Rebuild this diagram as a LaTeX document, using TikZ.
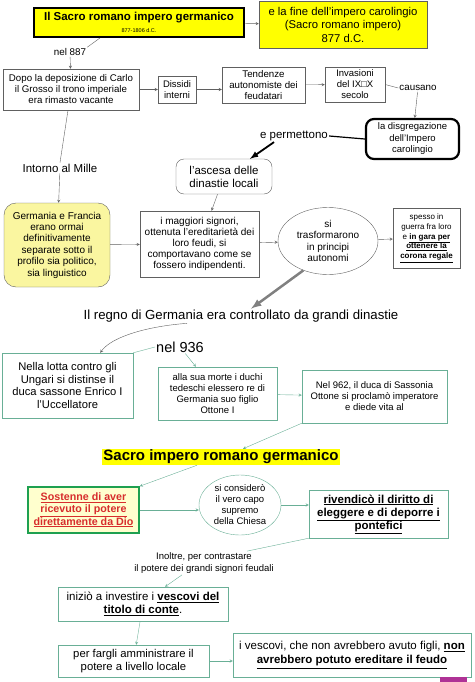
\documentclass[tikz,border=0pt]{standalone}
\usepackage{fontspec}
\setmainfont{Liberation Sans}
\usetikzlibrary{shapes,arrows,positioning,calc}
\usepackage{xcolor}
\definecolor{titleyellow}{RGB}{255,255,0}
\definecolor{paleyellow}{RGB}{250,246,160}
\definecolor{creamyellow}{RGB}{255,255,206}
\definecolor{mapgreen}{RGB}{105,175,150}
\definecolor{deepgreen}{RGB}{30,160,80}
\definecolor{godred}{RGB}{215,45,45}
\definecolor{linegrey}{RGB}{95,95,95}
\definecolor{pagemark}{RGB}{175,50,150}
\newcommand{\fsz}[2]{\fontsize{#1}{#2}\selectfont}
\newcommand{\bul}[1]{\textbf{\underline{#1}}}

\begin{document}
\begin{tikzpicture}[x=1pt, y=-1pt, >=stealth,
    plain/.style={rectangle, draw=gray!75!black, align=center, inner sep=1pt},
    ottobox/.style={rectangle, draw=mapgreen, align=center, inner sep=1pt},
    word/.style={inner sep=1pt, align=center},
    link/.style={->, draw=linegrey},
    glink/.style={->, draw=mapgreen}]
    \useasboundingbox (0,0) rectangle (474,682);

    % the end of the Carolingian empire
    \node[plain, draw=black, line width=1.8pt, fill=titleyellow, minimum width=210, minimum height=29, font=\bfseries\fsz{11.5}{12.5}] (sacroimp) at (139,22.5) {Il Sacro romano impero germanico\\[-1pt]{\mdseries\fsz{5.5}{6}877-1806 d.C.}};
    \node[plain, fill=titleyellow, minimum width=168, minimum height=47, font=\fsz{11.3}{13.5}] (fine) at (343,24.5) {e la fine dell'impero carolingio\\(Sacro romano impero)\\877 d.C.};
    \node[word, font=\fsz{9.8}{10}] (nel887) at (70,52) {nel 887};
    \node[plain, minimum width=136, minimum height=41, font=\fsz{9.7}{11}] (dopo) at (71,89.5) {Dopo la deposizione di Carlo\\il Grosso il trono imperiale\\era rimasto vacante};
    \node[plain, minimum width=38, minimum height=27, font=\fsz{9.5}{11}] (dissidi) at (177,89.5) {Dissidi\\interni};
    \node[plain, minimum width=83, minimum height=36, font=\fsz{9.7}{11}] (tendenze) at (263.5,85) {Tendenze\\autonomiste dei\\feudatari};
    \node[plain, minimum width=60, minimum height=35, font=\fsz{9.5}{11}] (invasioni) at (355,84.5) {Invasioni\\del IX□X\\secolo};
    \node[word, font=\fsz{9.8}{10}] (causano) at (418,88) {causano};
    \node[plain, draw=black, line width=2.2pt, rounded corners=8, minimum width=93, minimum height=40, font=\fsz{9.5}{11.5}] (disgreg) at (412.5,139) {la disgregazione\\dell'Impero\\carolingio};
    \node[word, font=\fsz{11.5}{12}] (permettono) at (294,136) {e permettono};
    \node[plain, rounded corners=8, minimum width=96, minimum height=35, font=\fsz{11.5}{13}] (ascesa) at (224,176.5) {l'ascesa delle\\dinastie locali};
    \node[word, font=\fsz{11.5}{12}] (mille) at (60,168) {Intorno al Mille};
    \node[plain, fill=paleyellow, rounded corners=12, minimum width=106, minimum height=84, font=\fsz{10}{11.4}] (germania) at (57,245) {Germania e Francia\\erano ormai\\definitivamente\\separate sotto il\\profilo sia politico,\\sia linguistico};
    \node[plain, minimum width=119, minimum height=66, font=\fsz{10}{11}] (maggiori) at (199.5,244) {i maggiori signori,\\ottenuta l'ereditarietà dei\\loro feudi, si\\comportavano come se\\fossero indipendenti.};
    \node[ellipse, draw=gray!75!black, minimum width=100, minimum height=67, align=center, inner sep=0pt, font=\fsz{10}{11.4}] (trasf) at (328,241) {si\\trasformarono\\in principi\\autonomi};
    \node[plain, minimum width=67, minimum height=60, font=\fsz{8}{9.8}] (spesso) at (426.5,238) {spesso in\\guerra fra loro\\e \bul{in gara per}\\\bul{ottenere la}\\\bul{corona regale}};

    % Ottone I
    \node[word, font=\fsz{13.2}{14}] (regno) at (241,316) {Il regno di Germania era controllato da grandi dinastie};
    \node[word, font=\fsz{14.5}{16}] (nel936) at (180,347) {nel 936};
    \node[ottobox, minimum width=131, minimum height=65, font=\fsz{11.2}{12.5}] (nella) at (67.5,385.5) {Nella lotta contro gli\\Ungari si distinse il\\duca sassone Enrico I\\l'Uccellatore};
    \node[ottobox, minimum width=119, minimum height=53, font=\fsz{9.5}{11}] (alla) at (217.5,393.5) {alla sua morte i duchi\\tedeschi elessero re di\\Germania suo figlio\\Ottone I};
    \node[ottobox, minimum width=145, minimum height=53, font=\fsz{9.5}{11}] (nel962) at (374.5,396.5) {Nel 962, il duca di Sassonia\\Ottone si proclamò imperatore\\e diede vita al};
    \node[word, fill=titleyellow, font=\bfseries\fsz{15}{16}] (sacro) at (221,457) {Sacro impero romano germanico};
    \node[ottobox, draw=deepgreen, line width=1.6pt, fill=creamyellow, minimum width=111, minimum height=46, text=godred, font=\bfseries\fsz{10.7}{11.7}] (sostenne) at (83.5,510) {\underline{Sostenne di aver}\\\underline{ricevuto il potere}\\\underline{direttamente da Dio}};
    \node[ellipse, draw=mapgreen, minimum width=82, minimum height=60, align=center, inner sep=0pt, font=\fsz{9.5}{11}] (chiesa) at (240,505) {si considerò\\il vero capo\\supremo\\della Chiesa};
    \node[ottobox, minimum width=139, minimum height=48, font=\bfseries\fsz{11.5}{13}] (rivendico) at (378.5,514) {\underline{rivendicò il diritto di}\\\underline{eleggere e di deporre i}\\\underline{pontefici}};
    \node[word, font=\fsz{9.5}{12.5}] (inoltre) at (204,563) {Inoltre, per contrastare\\il potere dei grandi signori feudali};
    \node[ottobox, minimum width=170, minimum height=34, font=\fsz{11.5}{13.5}] (inizio) at (143,604) {iniziò a investire i \bul{vescovi del}\\\bul{titolo di conte}.};
    \node[ottobox, minimum width=151, minimum height=32, font=\fsz{11.3}{12.5}] (fargli) at (133.5,661) {per fargli amministrare il\\potere a livello locale};
    \node[ottobox, minimum width=238, minimum height=44, font=\fsz{11.5}{14}] (vescovi) at (352,655) {i vescovi, che non avrebbero avuto figli, \bul{non}\\\bul{avrebbero potuto ereditare il feudo}};
    \fill[pagemark] (440,677) rectangle (467,682);

    \draw[link] (sacroimp) -- (fine);
    \draw[linegrey] ($(sacroimp.south west)+(67,0)$) -- (nel887.north east);
    \draw[link] (nel887) -- (dopo);
    \draw[link] (dopo) -- (dissidi);
    \draw[link] (dissidi.east) -- (dissidi.east -| tendenze.west);
    \draw[link] (tendenze) -- (invasioni);
    \draw[linegrey] (invasioni.east) -- (causano.west);
    \draw[link] (causano) -- (disgreg);
    \draw[black, line width=1.2pt] (disgreg.west) -- (permettono.east);
    \draw[-latex, black, line width=1.8pt] ($(permettono.south)+(-20,0)$) -- ($(ascesa.north)+(26,0)$);
    \draw[linegrey] ($(dopo.south)+(-3,0)$) -- (mille.north);
    \draw[link] (mille) -- (germania);
    \draw[link] (ascesa) -- (maggiori);
    \draw[link] (germania) -- (maggiori);
    \draw[link] (maggiori) -- (trasf);
    \draw[link] (trasf) -- (spesso);
    \draw[-latex, gray, line width=2.5pt] (trasf.230) -- (regno);

    \draw[link] ($(regno.south)+(-54,0)$) .. controls (150,326) and (112,336) .. (nella.45);
    \draw[mapgreen] (nel936.west) -- (nella.north east);
    \draw[glink] (nel936) -- (alla);
    \draw[glink] (alla) -- (nel962);
    \draw[glink] (nel962.south west) -- ($(sacro.north)+(22,0)$);
    \draw[glink] ($(sacro.south)+(-24,0)$) -- (sostenne.north east);
    \draw[glink] (sostenne.east) -- (sostenne.east -| chiesa.west);
    \draw[glink] (chiesa.east) -- (chiesa.east -| rivendico.west);
    \draw[mapgreen] (rivendico.south west) -- ($(inoltre.north)+(43,0)$);
    \draw[glink] ($(inoltre.south)+(-22,0)$) -- ($(inizio.north)+(22,0)$);
    \draw[glink] (inizio) -- (fargli);
    \draw[glink] (fargli.east) -- (fargli.east -| vescovi.west);
\end{tikzpicture}
\end{document}
